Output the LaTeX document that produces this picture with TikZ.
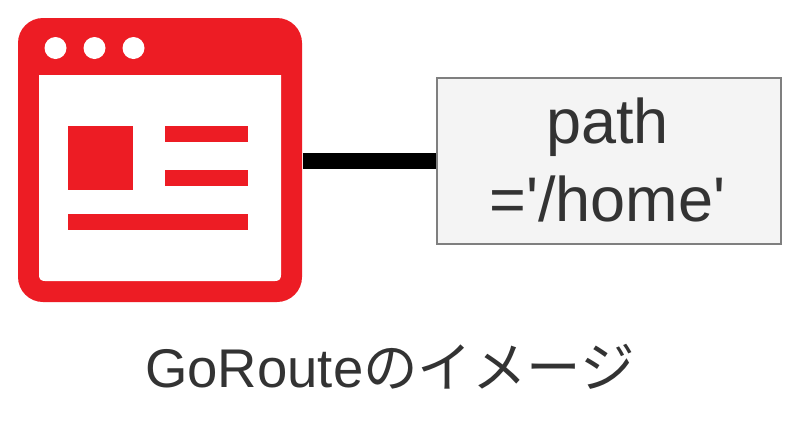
\documentclass[tikz,border=0pt]{standalone}
\usepackage{fontspec}
\newfontfamily\plainsans{Liberation Sans}
\newfontfamily\cjk{Noto Sans CJK JP}
\definecolor{ired}{HTML}{ED1C24}
\definecolor{txt}{HTML}{333333}
\definecolor{boxfill}{HTML}{F4F4F4}
\definecolor{boxline}{HTML}{7F7F7F}
\tikzset{x=1pt,y=-1pt,
 redshape/.style={fill=ired,draw=none},
 pathbox/.style={draw=boxline,line width=1.1pt,fill=boxfill,minimum width=344pt,minimum height=166pt,inner sep=0pt,text=txt},
 boxtext/.style={text=txt,inner sep=0pt,align=center,font=\plainsans\fontsize{63}{78}\selectfont},
 caption/.style={text=txt,inner sep=0pt,font=\plainsans\fontsize{54.5}{60}\selectfont},
 link/.style={line width=16pt,draw=black}}
\begin{document}
\begin{tikzpicture}
\useasboundingbox (0,0) rectangle (800,429);
\fill[white] (0,0) rectangle (800,429);
\fill[redshape,rounded corners=25pt] (18,18) rectangle (302,302);
\fill[white] (39,75) -- (281,75) -- (281,275) .. controls (281,279) and (279,281) .. (275,281) -- (45,281) .. controls (41,281) and (39,279) .. (39,275) -- cycle;
\foreach \cx in {55.5,94.5,133.5}{\fill[white] (\cx,48) circle (11pt);}
\fill[redshape] (68,126) rectangle (133,190);
\fill[redshape] (165,126) rectangle (248,141.5);
\fill[redshape] (165,170) rectangle (248,185.5);
\fill[redshape] (68,214) rectangle (248,230);
\coordinate (win) at (303,161);
\node[pathbox] (pb) at (609,161) {};
\node[boxtext] (pt) at (607.5,159.5) {path\\='/home'};
\draw[link] (win) -- (pb.west);
\node[caption] (cap) at (390,367) {GoRoute{\cjk のイメージ}};
\end{tikzpicture}
\end{document}
